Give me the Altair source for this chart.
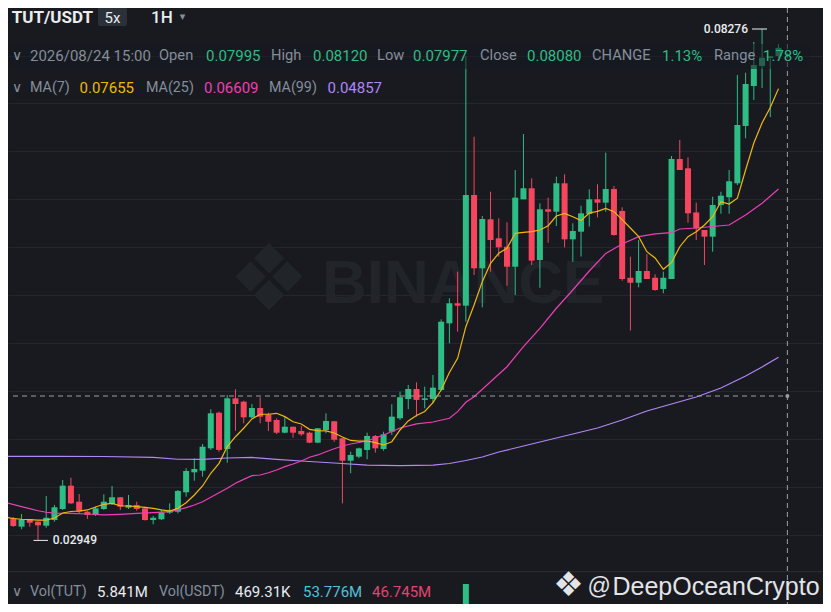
import altair as alt
import pandas as pd

# ---------------- values ----------------
candle_idx = list(range(95))
opens = [0.03214, 0.03179, 0.03092, 0.03172, 0.03144, 0.03102, 0.03161, 0.03276, 0.03519, 0.03352,
         0.03248, 0.03214, 0.03276, 0.03328, 0.03398, 0.03290, 0.03318, 0.03283, 0.03161, 0.03169,
         0.03238, 0.03248, 0.03450, 0.03658, 0.03675, 0.03908, 0.04279, 0.03901, 0.04429, 0.04394,
         0.04231, 0.04328, 0.04258, 0.04203, 0.04071, 0.04133, 0.04089, 0.04071, 0.03967, 0.04099,
         0.04190, 0.04013, 0.03779, 0.03821, 0.03891, 0.04037, 0.03901, 0.04081, 0.04221, 0.04422,
         0.04526, 0.04412, 0.04422, 0.04516, 0.05210, 0.05419, 0.05394, 0.06547, 0.05783, 0.06294,
         0.06096, 0.06008, 0.05800, 0.06502, 0.06617, 0.05870, 0.06398, 0.06373, 0.06669, 0.06085,
         0.06165, 0.06349, 0.06502, 0.06467, 0.06609, 0.06380, 0.05685, 0.05633, 0.05755, 0.05685,
         0.05568, 0.05672, 0.06922, 0.06825, 0.06365, 0.06182, 0.06113, 0.06443, 0.06523, 0.06669,
         0.07266, 0.07682, 0.07891, 0.07974, 0.07995]
highs = [0.03224, 0.03193, 0.03224, 0.03172, 0.03151, 0.03412, 0.03318, 0.03578, 0.03602, 0.03432,
         0.03255, 0.03300, 0.03429, 0.03516, 0.03401, 0.03422, 0.03352, 0.03300, 0.03203, 0.03266,
         0.03335, 0.03474, 0.03700, 0.03804, 0.03953, 0.04315, 0.04290, 0.04464, 0.04523, 0.04404,
         0.04370, 0.04440, 0.04279, 0.04221, 0.04231, 0.04133, 0.04141, 0.04081, 0.04117, 0.04273,
         0.04193, 0.04013, 0.03873, 0.03915, 0.04071, 0.04047, 0.04081, 0.04367, 0.04498, 0.04568,
         0.04596, 0.04550, 0.04672, 0.05252, 0.05471, 0.05748, 0.07990, 0.07154, 0.06328, 0.06581,
         0.06304, 0.06263, 0.06807, 0.07182, 0.06721, 0.06460, 0.06519, 0.06738, 0.06763, 0.06252,
         0.06435, 0.06606, 0.06659, 0.06988, 0.06641, 0.06419, 0.05904, 0.06078, 0.05932, 0.05721,
         0.05748, 0.06953, 0.07120, 0.06938, 0.06467, 0.06182, 0.06529, 0.06581, 0.06807, 0.07797,
         0.07821, 0.08141, 0.08276, 0.07995, 0.08120]
lows = [0.03161, 0.03089, 0.03065, 0.03092, 0.02949, 0.03081, 0.03144, 0.03266, 0.03328, 0.03231,
        0.03172, 0.03203, 0.03266, 0.03318, 0.03266, 0.03276, 0.03258, 0.03156, 0.03117, 0.03161,
        0.03224, 0.03231, 0.03404, 0.03571, 0.03613, 0.03891, 0.03873, 0.03758, 0.04092, 0.04169,
        0.04221, 0.04169, 0.04089, 0.04057, 0.04065, 0.04019, 0.04037, 0.03961, 0.03961, 0.04065,
        0.03977, 0.03335, 0.03648, 0.03804, 0.03794, 0.03863, 0.03883, 0.04047, 0.04203, 0.04315,
        0.04238, 0.04325, 0.04377, 0.04510, 0.05002, 0.05123, 0.05227, 0.05714, 0.05377, 0.05748,
        0.05904, 0.05602, 0.05505, 0.06502, 0.05818, 0.05581, 0.06050, 0.06224, 0.06002, 0.05852,
        0.05906, 0.06219, 0.06313, 0.06373, 0.06123, 0.05654, 0.05135, 0.05585, 0.05672, 0.05550,
        0.05523, 0.05672, 0.06807, 0.06258, 0.06078, 0.05818, 0.05956, 0.06352, 0.06352, 0.06651,
        0.07138, 0.07536, 0.07661, 0.07359, 0.07977]
closes = [0.03172, 0.03099, 0.03169, 0.03133, 0.03106, 0.03185, 0.03294, 0.03519, 0.03335, 0.03248,
          0.03214, 0.03283, 0.03352, 0.03398, 0.03300, 0.03318, 0.03276, 0.03161, 0.03185, 0.03242,
          0.03266, 0.03464, 0.03672, 0.03693, 0.03925, 0.04273, 0.03891, 0.04429, 0.04370, 0.04231,
          0.04328, 0.04238, 0.04185, 0.04071, 0.04133, 0.04071, 0.04054, 0.03967, 0.04117, 0.04193,
          0.03998, 0.03779, 0.03839, 0.03908, 0.04037, 0.03908, 0.04054, 0.04238, 0.04440, 0.04526,
          0.04412, 0.04429, 0.04540, 0.05227, 0.05419, 0.05394, 0.06547, 0.05783, 0.06297, 0.06078,
          0.06002, 0.05800, 0.06519, 0.06617, 0.05863, 0.06398, 0.06373, 0.06669, 0.06085, 0.06172,
          0.06356, 0.06502, 0.06467, 0.06609, 0.06130, 0.05672, 0.05633, 0.05755, 0.05672, 0.05557,
          0.05685, 0.06922, 0.06807, 0.06356, 0.06200, 0.06113, 0.06443, 0.06540, 0.06690, 0.07276,
          0.07703, 0.07901, 0.07977, 0.07992, 0.08080]
ma7 = [0.03190, 0.03177, 0.03169, 0.03165, 0.03161, 0.03161, 0.03182, 0.03234, 0.03250, 0.03255,
       0.03266, 0.03297, 0.03325, 0.03335, 0.03310, 0.03307, 0.03300, 0.03292, 0.03283, 0.03266,
       0.03255, 0.03283, 0.03342, 0.03422, 0.03516, 0.03648, 0.03752, 0.03925, 0.04029, 0.04117,
       0.04214, 0.04263, 0.04263, 0.04273, 0.04238, 0.04185, 0.04162, 0.04106, 0.04092, 0.04089,
       0.04068, 0.04026, 0.03990, 0.03984, 0.03984, 0.03967, 0.03943, 0.03977, 0.04099, 0.04193,
       0.04250, 0.04292, 0.04385, 0.04516, 0.04698, 0.04846, 0.05175, 0.05401, 0.05644, 0.05835,
       0.05940, 0.05992, 0.06148, 0.06158, 0.06165, 0.06182, 0.06227, 0.06328, 0.06356, 0.06321,
       0.06281, 0.06359, 0.06377, 0.06408, 0.06373, 0.06290, 0.06203, 0.06113, 0.05956, 0.05891,
       0.05773, 0.05844, 0.06008, 0.06113, 0.06165, 0.06234, 0.06321, 0.06477, 0.06453, 0.06513,
       0.06807, 0.07089, 0.07297, 0.07458, 0.07655]
ma25_idx = [0, 2, 4, 5, 6, 8, 10, 12, 14, 16, 18, 20, 21, 22, 23, 24, 25, 26, 27, 28,
            29, 30, 31, 32, 33, 34, 35, 36, 37, 38, 39, 40, 41, 42, 44, 46, 48, 50, 52, 54,
            55, 56, 57, 59, 61, 63, 65, 67, 69, 71, 73, 75, 77, 79, 81, 82, 84, 86, 88, 90,
            92, 94]
ma25 = [0.03346, 0.03300, 0.03258, 0.03242, 0.03234, 0.03231, 0.03224, 0.03214, 0.03221, 0.03231,
        0.03238, 0.03248, 0.03266, 0.03290, 0.03318, 0.03352, 0.03398, 0.03446, 0.03492, 0.03544,
        0.03585, 0.03623, 0.03630, 0.03654, 0.03682, 0.03717, 0.03745, 0.03776, 0.03815, 0.03839,
        0.03873, 0.03904, 0.03932, 0.03953, 0.03984, 0.04047, 0.04120, 0.04162, 0.04182, 0.04221,
        0.04290, 0.04388, 0.04446, 0.04602, 0.04758, 0.04967, 0.05158, 0.05367, 0.05557, 0.05755,
        0.05938, 0.06037, 0.06113, 0.06141, 0.06154, 0.06193, 0.06203, 0.06219, 0.06234, 0.06339,
        0.06460, 0.06609]
ma99_idx = [0, 6, 12, 18, 21, 24, 27, 30, 33, 36, 40, 44, 48, 52, 54, 56, 58, 60, 63, 66,
            69, 72, 75, 78, 81, 84, 87, 90, 92, 94]
ma99 = [0.03825, 0.03825, 0.03823, 0.03813, 0.03794, 0.03792, 0.03807, 0.03813, 0.03792, 0.03776,
        0.03755, 0.03734, 0.03727, 0.03734, 0.03750, 0.03781, 0.03818, 0.03870, 0.03932, 0.03995,
        0.04057, 0.04120, 0.04203, 0.04297, 0.04370, 0.04443, 0.04537, 0.04662, 0.04755, 0.04857]
vol_idx = [56]
vol_tut_m = [114]
price_grid = [0.030, 0.035, 0.040, 0.045, 0.050, 0.055, 0.060, 0.065, 0.070, 0.075, 0.080]
time_grid = [12, 24, 36, 48, 60, 72, 84, 96]
cross_idx = [95.08]
cross_price = [0.04453]
high_mark = [0.08276]
low_mark = [0.02949]

pair = "TUT/USDT"
leverage = "5x"
interval = "1H"
header_date = "2026/08/24 15:00"
ohlc_labels = ["Open", "High", "Low", "Close", "CHANGE", "Range"]
ohlc_values = ["0.07995", "0.08120", "0.07977", "0.08080", "1.13%", "1.78%"]
ma_labels = ["MA(7)", "MA(25)", "MA(99)"]
ma_values = ["0.07655", "0.06609", "0.04857"]
vol_labels = ["Vol(TUT)", "Vol(USDT)"]
vol_values = ["5.841M", "469.31K", "53.776M", "46.745M"]
handle = "DeepOceanCrypto"

# ---------------- styling ----------------
BG = "#181a20"
GRID = "#24282e"
GREEN = "#2ebd85"
RED = "#f6465d"
GRAY = "#848e9c"
WHITE = "#eaecef"
YEL = "#f0b90b"
PINK = "#eb40b5"
PURP = "#b385f8"
CROSS = "#9a9fa6"
FONT = "Roboto"

W, H = 815, 596
xs = alt.Scale(domain=[0.9604, 98.80], nice=False, zero=False)
ys = alt.Scale(domain=[0.022864, 0.084948], nice=False, zero=False)

df = pd.DataFrame({"k": candle_idx, "open": opens, "high": highs, "low": lows, "close": closes})
df["dir"] = ["up" if c >= o else "down" for o, c in zip(opens, closes)]
col = alt.Color("dir:N", scale=alt.Scale(domain=["up", "down"], range=[GREEN, RED]), legend=None)

one = pd.DataFrame({"a": [0]})


def txt(s, x, y, color, size=15, weight="normal", font=FONT, align="left", opacity=1.0):
    return alt.Chart(one).mark_text(
        text=s, align=align, baseline="middle", font=font, fontSize=size,
        fontWeight=weight, color=color, opacity=opacity
    ).encode(x=alt.value(x), y=alt.value(y))


layers = []

# watermark in the middle
layers.append(txt("\u2756", 261, 274, "#212429", size=92, font="DejaVu Sans", align="center"))
layers.append(txt("BINANCE", 314, 276, "#212429", size=62, weight="bold", font="Liberation Sans"))

# candles
wick = alt.Chart(df).mark_rule(strokeWidth=1).encode(
    x=alt.X("k:Q", scale=xs, axis=alt.Axis(values=time_grid, grid=True, gridColor=GRID, gridWidth=1,
                                          labels=False, ticks=False, domain=False, title=None)),
    y=alt.Y("low:Q", scale=ys, axis=alt.Axis(values=price_grid, grid=True, gridColor=GRID, gridWidth=1,
                                            labels=False, ticks=False, domain=False, title=None)),
    y2="high:Q",
    color=col,
)
body = alt.Chart(df).mark_bar(size=6, orient="vertical").encode(
    x=alt.X("k:Q", scale=xs, axis=None),
    y=alt.Y("open:Q", scale=ys, axis=None),
    y2="close:Q",
    color=col,
)
layers += [wick, body]

# moving averages
def ma_line(ks, vs, color):
    d = pd.DataFrame({"k": ks, "v": vs})
    return alt.Chart(d).mark_line(color=color, strokeWidth=1.2).encode(
        x=alt.X("k:Q", scale=xs, axis=None), y=alt.Y("v:Q", scale=ys, axis=None))

layers.append(ma_line(ma99_idx, ma99, PURP))
layers.append(ma_line(ma25_idx, ma25, PINK))
layers.append(ma_line(candle_idx, ma7, YEL))

# crosshair
cr = pd.DataFrame({"k": cross_idx, "p": cross_price, "k0": [0.9604]})
layers.append(alt.Chart(cr).mark_rule(color=CROSS, strokeDash=[5, 4], strokeWidth=1).encode(
    x=alt.X("k:Q", scale=xs, axis=None)))
layers.append(alt.Chart(cr).mark_rule(color=CROSS, strokeDash=[5, 4], strokeWidth=1).encode(
    x=alt.X("k0:Q", scale=xs, axis=None), x2="k:Q", y=alt.Y("p:Q", scale=ys, axis=None)))
layers.append(alt.Chart(cr).mark_circle(color=CROSS, size=16, opacity=1).encode(
    x=alt.X("k:Q", scale=xs, axis=None), y=alt.Y("p:Q", scale=ys, axis=None)))

# high / low markers
hm = pd.DataFrame({"p": high_mark, "t": [f"{v:.5f}" for v in high_mark]})
lm = pd.DataFrame({"p": low_mark, "t": [f"{v:.5f}" for v in low_mark]})
layers.append(alt.Chart(hm).mark_rule(color=WHITE, strokeWidth=1).encode(
    y=alt.Y("p:Q", scale=ys, axis=None), x=alt.value(744), x2=alt.value(759)))
layers.append(alt.Chart(hm).mark_text(align="right", baseline="middle", font=FONT, fontSize=12,
                                      fontWeight=500, color=WHITE).encode(
    y=alt.Y("p:Q", scale=ys, axis=None), x=alt.value(740), text="t:N"))
layers.append(alt.Chart(lm).mark_rule(color=WHITE, strokeWidth=1).encode(
    y=alt.Y("p:Q", scale=ys, axis=None), x=alt.value(25.5), x2=alt.value(40)))
layers.append(alt.Chart(lm).mark_text(align="left", baseline="middle", font=FONT, fontSize=12,
                                      fontWeight=500, color=WHITE).encode(
    y=alt.Y("p:Q", scale=ys, axis=None), x=alt.value(44.7), text="t:N"))

# header row backdrop
layers.append(alt.Chart(one).mark_rect(color=BG, opacity=0.55).encode(
    x=alt.value(0), x2=alt.value(802), y=alt.value(36), y2=alt.value(61)))

# header row 1
layers.append(txt(pair, 3.7, 9.5, WHITE, size=17, weight="bold"))
layers.append(alt.Chart(one).mark_rect(color="#2b3139", cornerRadius=2).encode(
    x=alt.value(90), x2=alt.value(119), y=alt.value(-1), y2=alt.value(18)))
layers.append(txt(leverage, 104.5, 9.5, WHITE, size=15, align="center"))
layers.append(txt(interval, 143, 9.5, WHITE, size=17, weight=500))
layers.append(txt("\u25be", 174.5, 9, GRAY, size=11, font="DejaVu Sans", align="center"))

# header row 2
row2_y = 48
layers.append(txt("\u2228", 9, row2_y, GRAY, size=14, font="DejaVu Sans", align="center"))
layers.append(txt(header_date, 22, row2_y, GRAY, size=15))
lab_x = [151, 263, 369, 472, 584, 706]
val_x = [198, 305, 405, 519, 654, 755]
for s, x in zip(ohlc_labels, lab_x):
    layers.append(txt(s, x, row2_y, GRAY, size=14.7))
for s, x in zip(ohlc_values, val_x):
    layers.append(txt(s, x, row2_y, GREEN, size=15))

# header row 3
row3_y = 80
layers.append(txt("\u2228", 9, row3_y, GRAY, size=14, font="DejaVu Sans", align="center"))
for s, x in zip(ma_labels, [22, 138, 261]):
    layers.append(txt(s, x, row3_y, GRAY, size=14.3))
for s, x, c in zip(ma_values, [71.5, 196, 319.5], [YEL, PINK, PURP]):
    layers.append(txt(s, x, row3_y, c, size=15))

# volume pane
layers.append(alt.Chart(one).mark_rule(color="#2b2f36", strokeWidth=1).encode(
    x=alt.value(0), x2=alt.value(W), y=alt.value(563.7)))
vd = pd.DataFrame({"k": vol_idx, "v": vol_tut_m, "z": [0] * len(vol_idx)})
layers.append(alt.Chart(vd).mark_bar(size=6, color=GREEN, clip=True, orient="vertical").encode(
    x=alt.X("k:Q", scale=xs, axis=None),
    y=alt.Y("v:Q", scale=alt.Scale(domain=[94, 690], nice=False, zero=False), axis=None),
    y2="z:Q"))
vol_y = 583.7
layers.append(txt("\u2228", 9, vol_y, GRAY, size=14, font="DejaVu Sans", align="center"))
layers.append(txt(vol_labels[0], 22, vol_y, GRAY, size=14.3))
layers.append(txt(vol_values[0], 89, vol_y, WHITE, size=15))
layers.append(txt(vol_labels[1], 151, vol_y, GRAY, size=14.3))
layers.append(txt(vol_values[1], 227, vol_y, WHITE, size=15))
layers.append(txt(vol_values[2], 295, vol_y, "#53c0dc", size=15))
layers.append(txt(vol_values[3], 364, vol_y, "#e0466e", size=15))

# author watermark
layers.append(txt("\u2756", 560.5, 578, "#e2e4e7", size=34, font="DejaVu Sans", align="center"))
layers.append(txt("@", 579.5, 579, "#e2e4e7", size=23, font="Liberation Sans"))
layers.append(txt(handle, 604.5, 579, "#e2e4e7", size=25, font="Liberation Sans"))

chart = alt.layer(*layers).resolve_scale(y="independent").properties(
    width=W, height=H, padding=0, autosize=alt.AutoSizeParams(type="none"), background=BG
).configure_view(stroke=None)

chart.save("out.html", embed_options={"renderer": "svg", "actions": False})
